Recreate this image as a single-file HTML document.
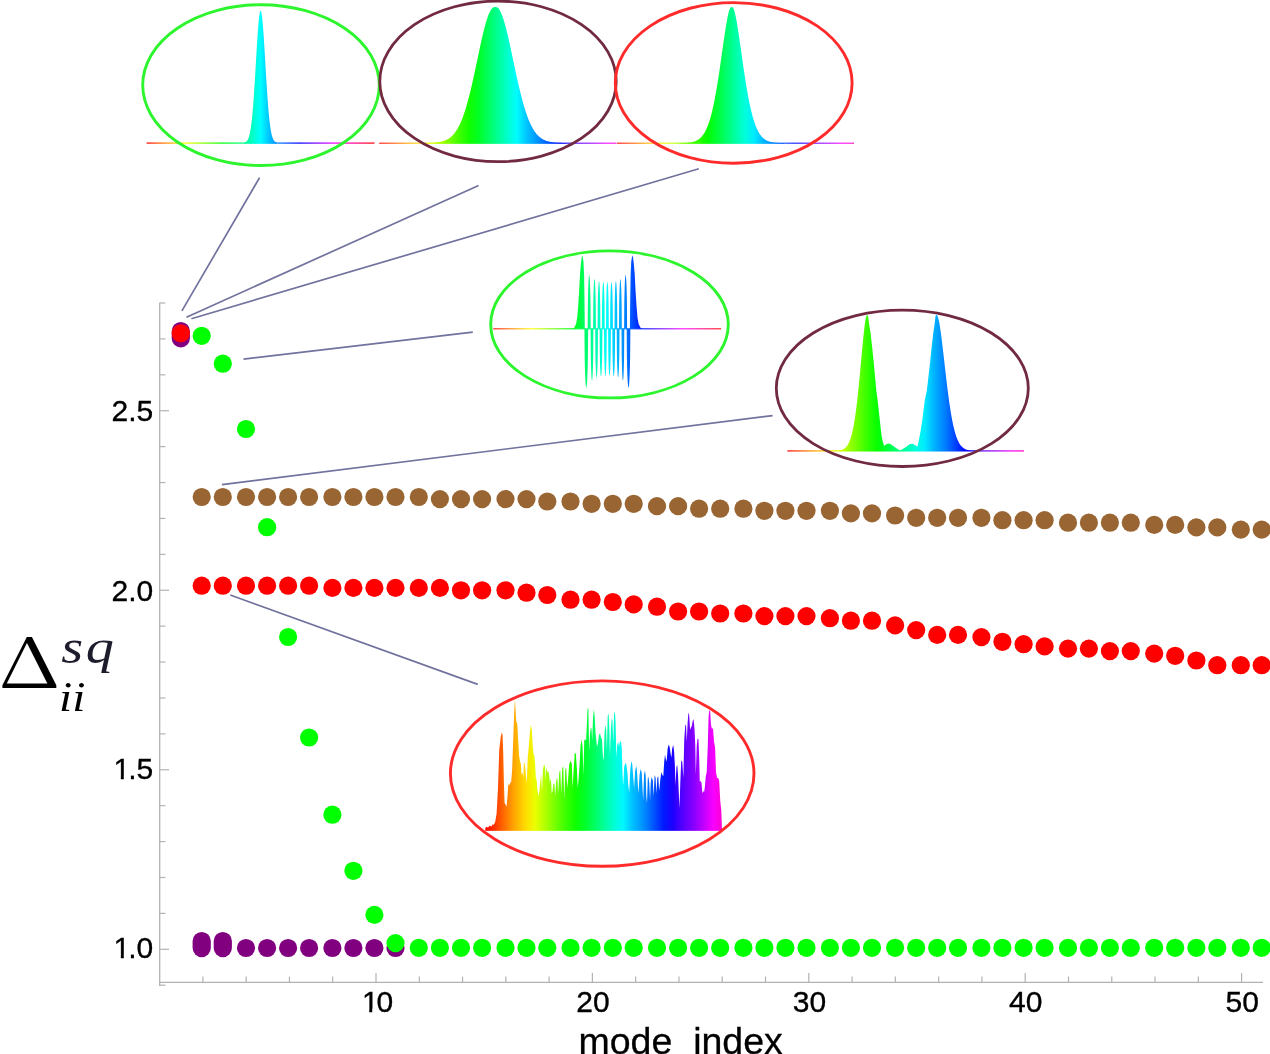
<!DOCTYPE html>
<html><head><meta charset="utf-8"><title>mode index plot</title><style>
html,body{margin:0;padding:0;background:#fff;}
body{width:1270px;height:1054px;overflow:hidden;}
svg{display:block;}
.tk{font-family:"Liberation Sans",Arial,sans-serif;font-size:30px;fill:#000;stroke:#000;stroke-width:0.35px;}
.xl{font-family:"Liberation Sans",Arial,sans-serif;font-size:37.5px;fill:#000;stroke:#000;stroke-width:0.3px;white-space:pre;}
.dl{font-family:"Noto Serif CJK SC","DejaVu Serif",serif;font-weight:400;font-size:69px;fill:#000;}
.sq{font-family:"Liberation Serif","DejaVu Serif",serif;font-style:italic;font-size:48px;fill:#1c1c2c;}
.ii{font-family:"Liberation Serif","DejaVu Serif",serif;font-style:italic;font-size:43px;fill:#000;}
</style></head>
<body><svg width="1270" height="1054" viewBox="0 0 1270 1054">
<defs><clipPath id="c1_1"><rect x="107.5" y="928.4" width="80" height="26.4"/><rect x="120.83" y="928.4" width="2.95" height="36"/><rect x="130.5" y="928.4" width="60" height="36"/></clipPath>
<clipPath id="c1_2"><rect x="107.5" y="749.47" width="80" height="26.4"/><rect x="120.83" y="749.47" width="2.95" height="36"/><rect x="130.5" y="749.47" width="60" height="36"/></clipPath>
<clipPath id="c1_3"><rect x="355.92" y="982.3" width="80" height="26.4"/><rect x="369.25" y="982.3" width="2.95" height="36"/><rect x="378.92" y="982.3" width="60" height="36"/></clipPath>
<linearGradient id="g1" gradientUnits="userSpaceOnUse" x1="146.6" y1="0" x2="374.5" y2="0"><stop offset="0" stop-color="#ff0000"/><stop offset="0.04" stop-color="#ff4000"/><stop offset="0.08" stop-color="#ff8000"/><stop offset="0.12" stop-color="#ffbf00"/><stop offset="0.17" stop-color="#ffff00"/><stop offset="0.21" stop-color="#bfff00"/><stop offset="0.25" stop-color="#80ff00"/><stop offset="0.29" stop-color="#40ff00"/><stop offset="0.33" stop-color="#00ff00"/><stop offset="0.38" stop-color="#00ff40"/><stop offset="0.42" stop-color="#00ff80"/><stop offset="0.46" stop-color="#00ffbf"/><stop offset="0.5" stop-color="#00ffff"/><stop offset="0.54" stop-color="#00bfff"/><stop offset="0.58" stop-color="#0080ff"/><stop offset="0.62" stop-color="#0040ff"/><stop offset="0.67" stop-color="#0000ff"/><stop offset="0.71" stop-color="#4000ff"/><stop offset="0.75" stop-color="#8000ff"/><stop offset="0.79" stop-color="#bf00ff"/><stop offset="0.83" stop-color="#ff00ff"/><stop offset="0.88" stop-color="#ff00bf"/><stop offset="0.92" stop-color="#ff0080"/><stop offset="0.96" stop-color="#ff0040"/><stop offset="1" stop-color="#ff0000"/></linearGradient>
<linearGradient id="g2" gradientUnits="userSpaceOnUse" x1="379.2" y1="0" x2="616.5" y2="0"><stop offset="0" stop-color="#ff0000"/><stop offset="0.04" stop-color="#ff3700"/><stop offset="0.08" stop-color="#ff6e00"/><stop offset="0.12" stop-color="#ffa400"/><stop offset="0.17" stop-color="#ffdb00"/><stop offset="0.21" stop-color="#ecff00"/><stop offset="0.25" stop-color="#b5ff00"/><stop offset="0.29" stop-color="#7eff00"/><stop offset="0.33" stop-color="#47ff00"/><stop offset="0.38" stop-color="#11ff00"/><stop offset="0.42" stop-color="#00ff26"/><stop offset="0.46" stop-color="#00ff5d"/><stop offset="0.5" stop-color="#00ff94"/><stop offset="0.54" stop-color="#00ffcb"/><stop offset="0.58" stop-color="#00fcff"/><stop offset="0.62" stop-color="#00c6ff"/><stop offset="0.67" stop-color="#008fff"/><stop offset="0.71" stop-color="#0058ff"/><stop offset="0.75" stop-color="#0021ff"/><stop offset="0.79" stop-color="#1600ff"/><stop offset="0.83" stop-color="#4c00ff"/><stop offset="0.88" stop-color="#8300ff"/><stop offset="0.92" stop-color="#ba00ff"/><stop offset="0.96" stop-color="#f100ff"/><stop offset="1" stop-color="#ff00d6"/></linearGradient>
<linearGradient id="g3" gradientUnits="userSpaceOnUse" x1="617" y1="0" x2="854" y2="0"><stop offset="0" stop-color="#ff0000"/><stop offset="0.04" stop-color="#ff3800"/><stop offset="0.08" stop-color="#ff7000"/><stop offset="0.12" stop-color="#ffa800"/><stop offset="0.17" stop-color="#ffe000"/><stop offset="0.21" stop-color="#e5ff00"/><stop offset="0.25" stop-color="#adff00"/><stop offset="0.29" stop-color="#75ff00"/><stop offset="0.33" stop-color="#3dff00"/><stop offset="0.38" stop-color="#05ff00"/><stop offset="0.42" stop-color="#00ff33"/><stop offset="0.46" stop-color="#00ff6b"/><stop offset="0.5" stop-color="#00ffa3"/><stop offset="0.54" stop-color="#00ffdb"/><stop offset="0.58" stop-color="#00ebff"/><stop offset="0.62" stop-color="#00b3ff"/><stop offset="0.67" stop-color="#007aff"/><stop offset="0.71" stop-color="#0042ff"/><stop offset="0.75" stop-color="#000aff"/><stop offset="0.79" stop-color="#2e00ff"/><stop offset="0.83" stop-color="#6600ff"/><stop offset="0.88" stop-color="#9e00ff"/><stop offset="0.92" stop-color="#d600ff"/><stop offset="0.96" stop-color="#ff00f0"/><stop offset="1" stop-color="#ff00b8"/></linearGradient>
<linearGradient id="g4" gradientUnits="userSpaceOnUse" x1="493.3" y1="0" x2="721.1" y2="0"><stop offset="0" stop-color="#ff0000"/><stop offset="0.04" stop-color="#ff4000"/><stop offset="0.08" stop-color="#ff8000"/><stop offset="0.12" stop-color="#ffbf00"/><stop offset="0.17" stop-color="#ffff00"/><stop offset="0.21" stop-color="#bfff00"/><stop offset="0.25" stop-color="#80ff00"/><stop offset="0.29" stop-color="#40ff00"/><stop offset="0.33" stop-color="#00ff00"/><stop offset="0.38" stop-color="#00ff40"/><stop offset="0.42" stop-color="#00ff80"/><stop offset="0.46" stop-color="#00ffbf"/><stop offset="0.5" stop-color="#00ffff"/><stop offset="0.54" stop-color="#00bfff"/><stop offset="0.58" stop-color="#0080ff"/><stop offset="0.62" stop-color="#0040ff"/><stop offset="0.67" stop-color="#0000ff"/><stop offset="0.71" stop-color="#4000ff"/><stop offset="0.75" stop-color="#8000ff"/><stop offset="0.79" stop-color="#bf00ff"/><stop offset="0.83" stop-color="#ff00ff"/><stop offset="0.88" stop-color="#ff00bf"/><stop offset="0.92" stop-color="#ff0080"/><stop offset="0.96" stop-color="#ff0040"/><stop offset="1" stop-color="#ff0000"/></linearGradient>
<linearGradient id="g5" gradientUnits="userSpaceOnUse" x1="787.4" y1="0" x2="1024" y2="0"><stop offset="0" stop-color="#ff0000"/><stop offset="0.04" stop-color="#ff3800"/><stop offset="0.08" stop-color="#ff7000"/><stop offset="0.12" stop-color="#ffa800"/><stop offset="0.17" stop-color="#ffe000"/><stop offset="0.21" stop-color="#e5ff00"/><stop offset="0.25" stop-color="#adff00"/><stop offset="0.29" stop-color="#75ff00"/><stop offset="0.33" stop-color="#3dff00"/><stop offset="0.38" stop-color="#05ff00"/><stop offset="0.42" stop-color="#00ff33"/><stop offset="0.46" stop-color="#00ff6b"/><stop offset="0.5" stop-color="#00ffa3"/><stop offset="0.54" stop-color="#00ffdb"/><stop offset="0.58" stop-color="#00ebff"/><stop offset="0.62" stop-color="#00b3ff"/><stop offset="0.67" stop-color="#007aff"/><stop offset="0.71" stop-color="#0042ff"/><stop offset="0.75" stop-color="#000aff"/><stop offset="0.79" stop-color="#2e00ff"/><stop offset="0.83" stop-color="#6600ff"/><stop offset="0.88" stop-color="#9e00ff"/><stop offset="0.92" stop-color="#d600ff"/><stop offset="0.96" stop-color="#ff00f0"/><stop offset="1" stop-color="#ff00b8"/></linearGradient>
<linearGradient id="g6" gradientUnits="userSpaceOnUse" x1="485.4" y1="0" x2="722.7" y2="0"><stop offset="0" stop-color="#ff0000"/><stop offset="0.04" stop-color="#ff3700"/><stop offset="0.08" stop-color="#ff6e00"/><stop offset="0.12" stop-color="#ffa500"/><stop offset="0.17" stop-color="#ffdd00"/><stop offset="0.21" stop-color="#eaff00"/><stop offset="0.25" stop-color="#b3ff00"/><stop offset="0.29" stop-color="#7cff00"/><stop offset="0.33" stop-color="#45ff00"/><stop offset="0.38" stop-color="#0eff00"/><stop offset="0.42" stop-color="#00ff29"/><stop offset="0.46" stop-color="#00ff61"/><stop offset="0.5" stop-color="#00ff98"/><stop offset="0.54" stop-color="#00ffcf"/><stop offset="0.58" stop-color="#00f8ff"/><stop offset="0.62" stop-color="#00c1ff"/><stop offset="0.67" stop-color="#008aff"/><stop offset="0.71" stop-color="#0053ff"/><stop offset="0.75" stop-color="#001bff"/><stop offset="0.79" stop-color="#1c00ff"/><stop offset="0.83" stop-color="#5300ff"/><stop offset="0.88" stop-color="#8a00ff"/><stop offset="0.92" stop-color="#c100ff"/><stop offset="0.96" stop-color="#f800ff"/><stop offset="1" stop-color="#ff00cf"/></linearGradient></defs>
<rect width="1270" height="1054" fill="#fff"/>
<line x1="159.7" y1="302.8" x2="159.7" y2="986" stroke="#b2b2b2" stroke-width="1.3"/>
<line x1="159.7" y1="982.3" x2="1263" y2="982.3" stroke="#b2b2b2" stroke-width="1.3"/>
<line x1="159.7" y1="985.2" x2="165.4" y2="985.2" stroke="#b2b2b2" stroke-width="1.2"/>
<line x1="159.7" y1="949.3" x2="169" y2="949.3" stroke="#b2b2b2" stroke-width="1.2"/>
<line x1="159.7" y1="913.39" x2="165.4" y2="913.39" stroke="#b2b2b2" stroke-width="1.2"/>
<line x1="159.7" y1="877.49" x2="165.4" y2="877.49" stroke="#b2b2b2" stroke-width="1.2"/>
<line x1="159.7" y1="841.58" x2="165.4" y2="841.58" stroke="#b2b2b2" stroke-width="1.2"/>
<line x1="159.7" y1="805.68" x2="165.4" y2="805.68" stroke="#b2b2b2" stroke-width="1.2"/>
<line x1="159.7" y1="769.77" x2="169" y2="769.77" stroke="#b2b2b2" stroke-width="1.2"/>
<line x1="159.7" y1="733.87" x2="165.4" y2="733.87" stroke="#b2b2b2" stroke-width="1.2"/>
<line x1="159.7" y1="697.96" x2="165.4" y2="697.96" stroke="#b2b2b2" stroke-width="1.2"/>
<line x1="159.7" y1="662.06" x2="165.4" y2="662.06" stroke="#b2b2b2" stroke-width="1.2"/>
<line x1="159.7" y1="626.15" x2="165.4" y2="626.15" stroke="#b2b2b2" stroke-width="1.2"/>
<line x1="159.7" y1="590.25" x2="169" y2="590.25" stroke="#b2b2b2" stroke-width="1.2"/>
<line x1="159.7" y1="554.34" x2="165.4" y2="554.34" stroke="#b2b2b2" stroke-width="1.2"/>
<line x1="159.7" y1="518.44" x2="165.4" y2="518.44" stroke="#b2b2b2" stroke-width="1.2"/>
<line x1="159.7" y1="482.54" x2="165.4" y2="482.54" stroke="#b2b2b2" stroke-width="1.2"/>
<line x1="159.7" y1="446.63" x2="165.4" y2="446.63" stroke="#b2b2b2" stroke-width="1.2"/>
<line x1="159.7" y1="410.72" x2="169" y2="410.72" stroke="#b2b2b2" stroke-width="1.2"/>
<line x1="159.7" y1="374.82" x2="165.4" y2="374.82" stroke="#b2b2b2" stroke-width="1.2"/>
<line x1="159.7" y1="338.91" x2="165.4" y2="338.91" stroke="#b2b2b2" stroke-width="1.2"/>
<line x1="159.7" y1="303.01" x2="165.4" y2="303.01" stroke="#b2b2b2" stroke-width="1.2"/>
<line x1="202.88" y1="982.3" x2="202.88" y2="976.6" stroke="#b2b2b2" stroke-width="1.2"/>
<line x1="246.16" y1="982.3" x2="246.16" y2="976.6" stroke="#b2b2b2" stroke-width="1.2"/>
<line x1="289.44" y1="982.3" x2="289.44" y2="976.6" stroke="#b2b2b2" stroke-width="1.2"/>
<line x1="332.72" y1="982.3" x2="332.72" y2="976.6" stroke="#b2b2b2" stroke-width="1.2"/>
<line x1="376" y1="982.3" x2="376" y2="973" stroke="#b2b2b2" stroke-width="1.2"/>
<line x1="419.28" y1="982.3" x2="419.28" y2="976.6" stroke="#b2b2b2" stroke-width="1.2"/>
<line x1="462.56" y1="982.3" x2="462.56" y2="976.6" stroke="#b2b2b2" stroke-width="1.2"/>
<line x1="505.84" y1="982.3" x2="505.84" y2="976.6" stroke="#b2b2b2" stroke-width="1.2"/>
<line x1="549.12" y1="982.3" x2="549.12" y2="976.6" stroke="#b2b2b2" stroke-width="1.2"/>
<line x1="592.4" y1="982.3" x2="592.4" y2="973" stroke="#b2b2b2" stroke-width="1.2"/>
<line x1="635.68" y1="982.3" x2="635.68" y2="976.6" stroke="#b2b2b2" stroke-width="1.2"/>
<line x1="678.96" y1="982.3" x2="678.96" y2="976.6" stroke="#b2b2b2" stroke-width="1.2"/>
<line x1="722.24" y1="982.3" x2="722.24" y2="976.6" stroke="#b2b2b2" stroke-width="1.2"/>
<line x1="765.52" y1="982.3" x2="765.52" y2="976.6" stroke="#b2b2b2" stroke-width="1.2"/>
<line x1="808.8" y1="982.3" x2="808.8" y2="973" stroke="#b2b2b2" stroke-width="1.2"/>
<line x1="852.08" y1="982.3" x2="852.08" y2="976.6" stroke="#b2b2b2" stroke-width="1.2"/>
<line x1="895.36" y1="982.3" x2="895.36" y2="976.6" stroke="#b2b2b2" stroke-width="1.2"/>
<line x1="938.64" y1="982.3" x2="938.64" y2="976.6" stroke="#b2b2b2" stroke-width="1.2"/>
<line x1="981.92" y1="982.3" x2="981.92" y2="976.6" stroke="#b2b2b2" stroke-width="1.2"/>
<line x1="1025.2" y1="982.3" x2="1025.2" y2="973" stroke="#b2b2b2" stroke-width="1.2"/>
<line x1="1068.48" y1="982.3" x2="1068.48" y2="976.6" stroke="#b2b2b2" stroke-width="1.2"/>
<line x1="1111.76" y1="982.3" x2="1111.76" y2="976.6" stroke="#b2b2b2" stroke-width="1.2"/>
<line x1="1155.04" y1="982.3" x2="1155.04" y2="976.6" stroke="#b2b2b2" stroke-width="1.2"/>
<line x1="1198.32" y1="982.3" x2="1198.32" y2="976.6" stroke="#b2b2b2" stroke-width="1.2"/>
<line x1="1241.6" y1="982.3" x2="1241.6" y2="973" stroke="#b2b2b2" stroke-width="1.2"/>
<text x="111.5" y="958.4" class="tk" clip-path="url(#c1_1)"><tspan dx="2">1</tspan><tspan dx="-2">.0</tspan></text>
<text x="111.5" y="779.47" class="tk" clip-path="url(#c1_2)"><tspan dx="2">1</tspan><tspan dx="-2">.5</tspan></text>
<text x="111.5" y="600.65" class="tk">2.0</text>
<text x="111.5" y="421.12" class="tk">2.5</text>
<text x="359.92" y="1012.3" class="tk" clip-path="url(#c1_3)"><tspan dx="2">1</tspan><tspan dx="-2">0</tspan></text>
<text x="576.32" y="1012.3" class="tk">20</text>
<text x="792.72" y="1012.3" class="tk">30</text>
<text x="1009.12" y="1012.3" class="tk">40</text>
<text x="1225.52" y="1012.3" class="tk">50</text>
<text x="578.5" y="1054.2" class="xl">mode&#160;&#160;index</text>
<text transform="translate(-1.9,688.1) scale(1.33,1)" class="dl">&#916;</text>
<text transform="translate(61.2,663.4) scale(1.17,1)" class="sq">s<tspan dx="2.4">q</tspan></text>
<text transform="translate(59,710.6) scale(1.1,1)" class="ii">ii</text>
<line x1="181.9" y1="310.9" x2="259.6" y2="177.6" stroke="#71729d" stroke-width="1.7"/>
<line x1="186.5" y1="317.2" x2="478.6" y2="185.5" stroke="#71729d" stroke-width="1.7"/>
<line x1="191.4" y1="318.7" x2="698.8" y2="168.7" stroke="#71729d" stroke-width="1.7"/>
<line x1="243.5" y1="359.2" x2="472.8" y2="332.2" stroke="#71729d" stroke-width="1.7"/>
<line x1="221.9" y1="484.6" x2="772.6" y2="415.6" stroke="#71729d" stroke-width="1.7"/>
<line x1="230.3" y1="595" x2="477.8" y2="684.4" stroke="#71729d" stroke-width="1.7"/>
<rect x="171.7" y="321.9" width="18.2" height="25.5" rx="9.1" ry="9.1" fill="#800080"/>
<rect x="192.6" y="931.9" width="18.2" height="25.3" rx="9.1" ry="9.1" fill="#800080"/>
<rect x="213.7" y="931.9" width="18.2" height="25.3" rx="9.1" ry="9.1" fill="#800080"/>
<circle cx="246" cy="948" r="9.1" fill="#800080"/>
<circle cx="267.1" cy="948" r="9.1" fill="#800080"/>
<circle cx="288.1" cy="948" r="9.1" fill="#800080"/>
<circle cx="309.1" cy="948" r="9.1" fill="#800080"/>
<circle cx="332.4" cy="948" r="9.1" fill="#800080"/>
<circle cx="353.4" cy="948" r="9.1" fill="#800080"/>
<circle cx="374.4" cy="948" r="9.1" fill="#800080"/>
<circle cx="395.5" cy="948" r="9.1" fill="#800080"/>
<circle cx="201.7" cy="335.8" r="9.1" fill="#00ff00"/>
<circle cx="222.8" cy="363.7" r="9.1" fill="#00ff00"/>
<circle cx="246" cy="429" r="9.1" fill="#00ff00"/>
<circle cx="267.1" cy="527.2" r="9.1" fill="#00ff00"/>
<circle cx="288.1" cy="637" r="9.1" fill="#00ff00"/>
<circle cx="309.1" cy="737.5" r="9.1" fill="#00ff00"/>
<circle cx="332.4" cy="814.7" r="9.1" fill="#00ff00"/>
<circle cx="353.4" cy="870.8" r="9.1" fill="#00ff00"/>
<circle cx="374.4" cy="914.9" r="9.1" fill="#00ff00"/>
<circle cx="395.5" cy="943.1" r="9.1" fill="#00ff00"/>
<circle cx="418.8" cy="947.8" r="9.1" fill="#00ff00"/>
<circle cx="439.9" cy="947.8" r="9.1" fill="#00ff00"/>
<circle cx="461" cy="947.8" r="9.1" fill="#00ff00"/>
<circle cx="482.1" cy="947.8" r="9.1" fill="#00ff00"/>
<circle cx="505.5" cy="947.8" r="9.1" fill="#00ff00"/>
<circle cx="526.5" cy="947.8" r="9.1" fill="#00ff00"/>
<circle cx="547.3" cy="947.8" r="9.1" fill="#00ff00"/>
<circle cx="570.5" cy="947.8" r="9.1" fill="#00ff00"/>
<circle cx="591.6" cy="947.8" r="9.1" fill="#00ff00"/>
<circle cx="612.8" cy="947.8" r="9.1" fill="#00ff00"/>
<circle cx="633.7" cy="947.8" r="9.1" fill="#00ff00"/>
<circle cx="657" cy="947.8" r="9.1" fill="#00ff00"/>
<circle cx="678.1" cy="947.8" r="9.1" fill="#00ff00"/>
<circle cx="699.1" cy="947.8" r="9.1" fill="#00ff00"/>
<circle cx="720.2" cy="947.8" r="9.1" fill="#00ff00"/>
<circle cx="743.4" cy="947.8" r="9.1" fill="#00ff00"/>
<circle cx="764.4" cy="947.8" r="9.1" fill="#00ff00"/>
<circle cx="785.4" cy="947.8" r="9.1" fill="#00ff00"/>
<circle cx="806.5" cy="947.8" r="9.1" fill="#00ff00"/>
<circle cx="829.9" cy="947.8" r="9.1" fill="#00ff00"/>
<circle cx="850.9" cy="947.8" r="9.1" fill="#00ff00"/>
<circle cx="872" cy="947.8" r="9.1" fill="#00ff00"/>
<circle cx="895.1" cy="947.8" r="9.1" fill="#00ff00"/>
<circle cx="916.2" cy="947.8" r="9.1" fill="#00ff00"/>
<circle cx="937.2" cy="947.8" r="9.1" fill="#00ff00"/>
<circle cx="958" cy="947.8" r="9.1" fill="#00ff00"/>
<circle cx="981.4" cy="947.8" r="9.1" fill="#00ff00"/>
<circle cx="1002.4" cy="947.8" r="9.1" fill="#00ff00"/>
<circle cx="1023.6" cy="947.8" r="9.1" fill="#00ff00"/>
<circle cx="1044.6" cy="947.8" r="9.1" fill="#00ff00"/>
<circle cx="1068" cy="947.8" r="9.1" fill="#00ff00"/>
<circle cx="1088.9" cy="947.8" r="9.1" fill="#00ff00"/>
<circle cx="1109.9" cy="947.8" r="9.1" fill="#00ff00"/>
<circle cx="1130.8" cy="947.8" r="9.1" fill="#00ff00"/>
<circle cx="1154.2" cy="947.8" r="9.1" fill="#00ff00"/>
<circle cx="1175.2" cy="947.8" r="9.1" fill="#00ff00"/>
<circle cx="1196.4" cy="947.8" r="9.1" fill="#00ff00"/>
<circle cx="1217.3" cy="947.8" r="9.1" fill="#00ff00"/>
<circle cx="1240.8" cy="947.8" r="9.1" fill="#00ff00"/>
<circle cx="1261.7" cy="947.8" r="9.1" fill="#00ff00"/>
<circle cx="201.7" cy="497" r="9.1" fill="#996633"/>
<circle cx="222.8" cy="497" r="9.1" fill="#996633"/>
<circle cx="246" cy="497" r="9.1" fill="#996633"/>
<circle cx="267.1" cy="497" r="9.1" fill="#996633"/>
<circle cx="288.1" cy="497" r="9.1" fill="#996633"/>
<circle cx="309.1" cy="497" r="9.1" fill="#996633"/>
<circle cx="332.4" cy="497" r="9.1" fill="#996633"/>
<circle cx="353.4" cy="497" r="9.1" fill="#996633"/>
<circle cx="374.4" cy="497" r="9.1" fill="#996633"/>
<circle cx="395.5" cy="497" r="9.1" fill="#996633"/>
<circle cx="418.8" cy="497" r="9.1" fill="#996633"/>
<circle cx="439.9" cy="499.1" r="9.1" fill="#996633"/>
<circle cx="461" cy="499.1" r="9.1" fill="#996633"/>
<circle cx="482.1" cy="499.1" r="9.1" fill="#996633"/>
<circle cx="505.5" cy="499.1" r="9.1" fill="#996633"/>
<circle cx="526.5" cy="499.1" r="9.1" fill="#996633"/>
<circle cx="547.3" cy="501.5" r="9.1" fill="#996633"/>
<circle cx="570.5" cy="501.5" r="9.1" fill="#996633"/>
<circle cx="591.6" cy="503.8" r="9.1" fill="#996633"/>
<circle cx="612.8" cy="503.8" r="9.1" fill="#996633"/>
<circle cx="633.7" cy="503.8" r="9.1" fill="#996633"/>
<circle cx="657" cy="506.1" r="9.1" fill="#996633"/>
<circle cx="678.1" cy="506.1" r="9.1" fill="#996633"/>
<circle cx="699.1" cy="508.7" r="9.1" fill="#996633"/>
<circle cx="720.2" cy="508.7" r="9.1" fill="#996633"/>
<circle cx="743.4" cy="508.7" r="9.1" fill="#996633"/>
<circle cx="764.4" cy="510.8" r="9.1" fill="#996633"/>
<circle cx="785.4" cy="510.8" r="9.1" fill="#996633"/>
<circle cx="806.5" cy="510.8" r="9.1" fill="#996633"/>
<circle cx="829.9" cy="510.8" r="9.1" fill="#996633"/>
<circle cx="850.9" cy="513.4" r="9.1" fill="#996633"/>
<circle cx="872" cy="513.4" r="9.1" fill="#996633"/>
<circle cx="895.1" cy="515.5" r="9.1" fill="#996633"/>
<circle cx="916.2" cy="517.8" r="9.1" fill="#996633"/>
<circle cx="937.2" cy="517.8" r="9.1" fill="#996633"/>
<circle cx="958" cy="517.8" r="9.1" fill="#996633"/>
<circle cx="981.4" cy="517.8" r="9.1" fill="#996633"/>
<circle cx="1002.4" cy="520.2" r="9.1" fill="#996633"/>
<circle cx="1023.6" cy="520.2" r="9.1" fill="#996633"/>
<circle cx="1044.6" cy="520.2" r="9.1" fill="#996633"/>
<circle cx="1068" cy="522.7" r="9.1" fill="#996633"/>
<circle cx="1088.9" cy="522.7" r="9.1" fill="#996633"/>
<circle cx="1109.9" cy="522.7" r="9.1" fill="#996633"/>
<circle cx="1130.8" cy="522.7" r="9.1" fill="#996633"/>
<circle cx="1154.2" cy="524.9" r="9.1" fill="#996633"/>
<circle cx="1175.2" cy="524.9" r="9.1" fill="#996633"/>
<circle cx="1196.4" cy="527.4" r="9.1" fill="#996633"/>
<circle cx="1217.3" cy="527.4" r="9.1" fill="#996633"/>
<circle cx="1240.8" cy="529.6" r="9.1" fill="#996633"/>
<circle cx="1261.7" cy="529.6" r="9.1" fill="#996633"/>
<circle cx="180.8" cy="333.3" r="9.1" fill="#ff0000"/>
<circle cx="201.7" cy="585.7" r="9.1" fill="#ff0000"/>
<circle cx="222.8" cy="585.7" r="9.1" fill="#ff0000"/>
<circle cx="246" cy="585.7" r="9.1" fill="#ff0000"/>
<circle cx="267.1" cy="585.7" r="9.1" fill="#ff0000"/>
<circle cx="288.1" cy="585.7" r="9.1" fill="#ff0000"/>
<circle cx="309.1" cy="585.7" r="9.1" fill="#ff0000"/>
<circle cx="332.4" cy="587.9" r="9.1" fill="#ff0000"/>
<circle cx="353.4" cy="587.9" r="9.1" fill="#ff0000"/>
<circle cx="374.4" cy="587.9" r="9.1" fill="#ff0000"/>
<circle cx="395.5" cy="587.9" r="9.1" fill="#ff0000"/>
<circle cx="418.8" cy="587.9" r="9.1" fill="#ff0000"/>
<circle cx="439.9" cy="587.9" r="9.1" fill="#ff0000"/>
<circle cx="461" cy="590.3" r="9.1" fill="#ff0000"/>
<circle cx="482.1" cy="590.3" r="9.1" fill="#ff0000"/>
<circle cx="505.5" cy="590.3" r="9.1" fill="#ff0000"/>
<circle cx="526.5" cy="592.7" r="9.1" fill="#ff0000"/>
<circle cx="547.3" cy="595" r="9.1" fill="#ff0000"/>
<circle cx="570.5" cy="599.7" r="9.1" fill="#ff0000"/>
<circle cx="591.6" cy="599.7" r="9.1" fill="#ff0000"/>
<circle cx="612.8" cy="602" r="9.1" fill="#ff0000"/>
<circle cx="633.7" cy="604.4" r="9.1" fill="#ff0000"/>
<circle cx="657" cy="606.7" r="9.1" fill="#ff0000"/>
<circle cx="678.1" cy="611.5" r="9.1" fill="#ff0000"/>
<circle cx="699.1" cy="611.5" r="9.1" fill="#ff0000"/>
<circle cx="720.2" cy="613.5" r="9.1" fill="#ff0000"/>
<circle cx="743.4" cy="613.5" r="9.1" fill="#ff0000"/>
<circle cx="764.4" cy="616.1" r="9.1" fill="#ff0000"/>
<circle cx="785.4" cy="616.1" r="9.1" fill="#ff0000"/>
<circle cx="806.5" cy="616.1" r="9.1" fill="#ff0000"/>
<circle cx="829.9" cy="618.2" r="9.1" fill="#ff0000"/>
<circle cx="850.9" cy="620.7" r="9.1" fill="#ff0000"/>
<circle cx="872" cy="620.7" r="9.1" fill="#ff0000"/>
<circle cx="895.1" cy="625.4" r="9.1" fill="#ff0000"/>
<circle cx="916.2" cy="630.1" r="9.1" fill="#ff0000"/>
<circle cx="937.2" cy="634.9" r="9.1" fill="#ff0000"/>
<circle cx="958" cy="634.9" r="9.1" fill="#ff0000"/>
<circle cx="981.4" cy="637.1" r="9.1" fill="#ff0000"/>
<circle cx="1002.4" cy="641.8" r="9.1" fill="#ff0000"/>
<circle cx="1023.6" cy="644.2" r="9.1" fill="#ff0000"/>
<circle cx="1044.6" cy="646.4" r="9.1" fill="#ff0000"/>
<circle cx="1068" cy="648.6" r="9.1" fill="#ff0000"/>
<circle cx="1088.9" cy="648.6" r="9.1" fill="#ff0000"/>
<circle cx="1109.9" cy="651.1" r="9.1" fill="#ff0000"/>
<circle cx="1130.8" cy="651.1" r="9.1" fill="#ff0000"/>
<circle cx="1154.2" cy="653.6" r="9.1" fill="#ff0000"/>
<circle cx="1175.2" cy="655.8" r="9.1" fill="#ff0000"/>
<circle cx="1196.4" cy="660.5" r="9.1" fill="#ff0000"/>
<circle cx="1217.3" cy="665.2" r="9.1" fill="#ff0000"/>
<circle cx="1240.8" cy="665.2" r="9.1" fill="#ff0000"/>
<circle cx="1261.7" cy="665.2" r="9.1" fill="#ff0000"/>
<line x1="146.6" y1="143.1" x2="374.5" y2="143.1" stroke="url(#g1)" stroke-width="1.6" stroke-opacity="0.7"/>
<path d="M244,143.4 L244,142.64 L244.25,142.59 L244.5,142.53 L244.75,142.45 L245,142.36 L245.25,142.26 L245.5,142.14 L245.75,142 L246,141.84 L246.25,141.65 L246.5,141.43 L246.75,141.18 L247,140.89 L247.25,140.56 L247.5,140.18 L247.75,139.75 L248,139.27 L248.25,138.72 L248.5,138.1 L248.75,137.4 L249,136.62 L249.25,135.75 L249.5,134.78 L249.75,133.7 L250,132.52 L250.25,131.21 L250.5,129.77 L250.75,128.21 L251,126.5 L251.25,124.64 L251.5,122.63 L251.75,120.46 L252,118.13 L252.25,115.64 L252.5,112.98 L252.75,110.15 L253,107.16 L253.25,104.01 L253.5,100.69 L253.75,97.23 L254,93.62 L254.25,89.87 L254.5,86 L254.75,82.02 L255,77.94 L255.25,73.79 L255.5,69.58 L255.75,65.33 L256,61.07 L256.25,56.82 L256.5,52.61 L256.75,48.45 L257,44.38 L257.25,40.43 L257.5,36.62 L257.75,32.98 L258,29.54 L258.25,26.32 L258.5,23.35 L258.75,20.65 L259,18.24 L259.25,16.14 L259.5,14.37 L259.75,12.94 L260,11.87 L260.25,11.17 L260.5,10.83 L260.75,10.87 L261,11.28 L261.25,12.06 L261.5,13.2 L261.75,14.7 L262,16.53 L262.25,18.69 L262.5,21.16 L262.75,23.92 L263,26.95 L263.25,30.21 L263.5,33.7 L263.75,37.37 L264,41.21 L264.25,45.19 L264.5,49.28 L264.75,53.45 L265,57.67 L265.25,61.92 L265.5,66.18 L265.75,70.43 L266,74.63 L266.25,78.76 L266.5,82.82 L266.75,86.78 L267,90.63 L267.25,94.35 L267.5,97.93 L267.75,101.37 L268,104.65 L268.25,107.77 L268.5,110.73 L268.75,113.53 L269,116.15 L269.25,118.61 L269.5,120.91 L269.75,123.04 L270,125.02 L270.25,126.85 L270.5,128.53 L270.75,130.07 L271,131.48 L271.25,132.76 L271.5,133.93 L271.75,134.98 L272,135.93 L272.25,136.78 L272.5,137.54 L272.75,138.23 L273,138.83 L273.25,139.37 L273.5,139.84 L273.75,140.26 L274,140.63 L274.25,140.95 L274.5,141.23 L274.75,141.48 L275,141.69 L275.25,141.87 L275.5,142.03 L275.75,142.17 L276,142.28 L276.25,142.38 L276.5,142.47 L276.75,142.54 L277,142.6 L277,143.4 Z" fill="url(#g1)"/>
<line x1="379.2" y1="143.2" x2="616.5" y2="143.2" stroke="url(#g2)" stroke-width="1.6" stroke-opacity="0.7"/>
<path d="M425,143.5 L425,142.94 L425.5,142.94 L426,142.93 L426.5,142.92 L427,142.91 L427.5,142.9 L428,142.89 L428.5,142.88 L429,142.87 L429.5,142.85 L430,142.84 L430.5,142.82 L431,142.8 L431.5,142.78 L432,142.75 L432.5,142.73 L433,142.7 L433.5,142.67 L434,142.64 L434.5,142.6 L435,142.56 L435.5,142.52 L436,142.47 L436.5,142.42 L437,142.36 L437.5,142.3 L438,142.23 L438.5,142.16 L439,142.08 L439.5,142 L440,141.91 L440.5,141.81 L441,141.7 L441.5,141.59 L442,141.46 L442.5,141.33 L443,141.18 L443.5,141.03 L444,140.86 L444.5,140.68 L445,140.49 L445.5,140.28 L446,140.06 L446.5,139.83 L447,139.57 L447.5,139.3 L448,139.02 L448.5,138.71 L449,138.38 L449.5,138.03 L450,137.66 L450.5,137.27 L451,136.85 L451.5,136.4 L452,135.93 L452.5,135.43 L453,134.9 L453.5,134.35 L454,133.76 L454.5,133.14 L455,132.48 L455.5,131.79 L456,131.07 L456.5,130.3 L457,129.5 L457.5,128.66 L458,127.78 L458.5,126.86 L459,125.89 L459.5,124.88 L460,123.83 L460.5,122.73 L461,121.59 L461.5,120.4 L462,119.16 L462.5,117.87 L463,116.54 L463.5,115.15 L464,113.72 L464.5,112.24 L465,110.7 L465.5,109.12 L466,107.49 L466.5,105.81 L467,104.08 L467.5,102.3 L468,100.47 L468.5,98.6 L469,96.68 L469.5,94.72 L470,92.72 L470.5,90.67 L471,88.58 L471.5,86.46 L472,84.3 L472.5,82.1 L473,79.88 L473.5,77.62 L474,75.34 L474.5,73.04 L475,70.71 L475.5,68.37 L476,66.02 L476.5,63.65 L477,61.28 L477.5,58.91 L478,56.53 L478.5,54.17 L479,51.81 L479.5,49.47 L480,47.14 L480.5,44.84 L481,42.56 L481.5,40.32 L482,38.11 L482.5,35.94 L483,33.82 L483.5,31.75 L484,29.73 L484.5,27.78 L485,25.88 L485.5,24.06 L486,22.31 L486.5,20.63 L487,19.04 L487.5,17.53 L488,16.11 L488.5,14.79 L489,13.56 L489.5,12.43 L490,11.4 L490.5,10.48 L491,9.67 L491.5,8.98 L492,8.39 L492.5,7.92 L493,7.56 L493.5,7.31 L494,7.17 L494.5,7.11 L495,7.1 L495.5,7.1 L496,7.12 L496.5,7.19 L497,7.35 L497.5,7.62 L498,8 L498.5,8.5 L499,9.11 L499.5,9.83 L500,10.66 L500.5,11.6 L501,12.65 L501.5,13.79 L502,15.04 L502.5,16.39 L503,17.82 L503.5,19.35 L504,20.96 L504.5,22.65 L505,24.42 L505.5,26.26 L506,28.16 L506.5,30.13 L507,32.16 L507.5,34.24 L508,36.37 L508.5,38.55 L509,40.76 L509.5,43.01 L510,45.3 L510.5,47.6 L511,49.93 L511.5,52.28 L512,54.64 L512.5,57.01 L513,59.38 L513.5,61.76 L514,64.13 L514.5,66.49 L515,68.84 L515.5,71.18 L516,73.5 L516.5,75.8 L517,78.08 L517.5,80.32 L518,82.54 L518.5,84.73 L519,86.89 L519.5,89 L520,91.08 L520.5,93.12 L521,95.12 L521.5,97.07 L522,98.98 L522.5,100.84 L523,102.66 L523.5,104.43 L524,106.15 L524.5,107.82 L525,109.44 L525.5,111.01 L526,112.54 L526.5,114.01 L527,115.43 L527.5,116.81 L528,118.13 L528.5,119.41 L529,120.64 L529.5,121.82 L530,122.96 L530.5,124.05 L531,125.09 L531.5,126.09 L532,127.05 L532.5,127.96 L533,128.83 L533.5,129.67 L534,130.46 L534.5,131.21 L535,131.93 L535.5,132.62 L536,133.26 L536.5,133.88 L537,134.46 L537.5,135.01 L538,135.53 L538.5,136.03 L539,136.49 L539.5,136.93 L540,137.35 L540.5,137.74 L541,138.1 L541.5,138.45 L542,138.77 L542.5,139.08 L543,139.36 L543.5,139.63 L544,139.88 L544.5,140.11 L545,140.33 L545.5,140.53 L546,140.72 L546.5,140.9 L547,141.06 L547.5,141.21 L548,141.36 L548.5,141.49 L549,141.61 L549.5,141.72 L550,141.83 L550.5,141.93 L551,142.02 L551.5,142.1 L552,142.18 L552.5,142.25 L553,142.31 L553.5,142.37 L554,142.43 L554.5,142.48 L555,142.53 L555.5,142.57 L556,142.61 L556.5,142.64 L557,142.68 L557.5,142.71 L558,142.73 L558.5,142.76 L559,142.78 L559.5,142.8 L560,142.82 L560.5,142.84 L561,142.85 L561.5,142.87 L562,142.88 L562.5,142.89 L563,142.9 L563.5,142.91 L564,142.92 L564.5,142.93 L565,142.94 L565.5,142.94 L566,142.95 L566,143.5 Z" fill="url(#g2)"/>
<line x1="617" y1="143.3" x2="854" y2="143.3" stroke="url(#g3)" stroke-width="1.6" stroke-opacity="0.7"/>
<path d="M680,143.6 L680,143.04 L680.25,143.03 L680.5,143.03 L680.75,143.02 L681,143.02 L681.25,143.01 L681.5,143.01 L681.75,143 L682,143 L682.25,142.99 L682.5,142.98 L682.75,142.97 L683,142.97 L683.25,142.96 L683.5,142.95 L683.75,142.94 L684,142.93 L684.25,142.92 L684.5,142.91 L684.75,142.9 L685,142.89 L685.25,142.87 L685.5,142.86 L685.75,142.85 L686,142.83 L686.25,142.81 L686.5,142.8 L686.75,142.78 L687,142.76 L687.25,142.74 L687.5,142.72 L687.75,142.7 L688,142.67 L688.25,142.65 L688.5,142.62 L688.75,142.6 L689,142.57 L689.25,142.54 L689.5,142.51 L689.75,142.47 L690,142.44 L690.25,142.4 L690.5,142.36 L690.75,142.32 L691,142.28 L691.25,142.24 L691.5,142.19 L691.75,142.14 L692,142.09 L692.25,142.03 L692.5,141.98 L692.75,141.92 L693,141.85 L693.25,141.79 L693.5,141.72 L693.75,141.65 L694,141.57 L694.25,141.49 L694.5,141.41 L694.75,141.32 L695,141.23 L695.25,141.14 L695.5,141.04 L695.75,140.93 L696,140.82 L696.25,140.71 L696.5,140.59 L696.75,140.47 L697,140.34 L697.25,140.2 L697.5,140.06 L697.75,139.91 L698,139.76 L698.25,139.6 L698.5,139.43 L698.75,139.26 L699,139.08 L699.25,138.89 L699.5,138.69 L699.75,138.49 L700,138.27 L700.25,138.05 L700.5,137.82 L700.75,137.58 L701,137.33 L701.25,137.07 L701.5,136.8 L701.75,136.52 L702,136.23 L702.25,135.93 L702.5,135.62 L702.75,135.29 L703,134.95 L703.25,134.6 L703.5,134.24 L703.75,133.87 L704,133.48 L704.25,133.07 L704.5,132.66 L704.75,132.22 L705,131.78 L705.25,131.32 L705.5,130.84 L705.75,130.34 L706,129.83 L706.25,129.31 L706.5,128.76 L706.75,128.2 L707,127.62 L707.25,127.02 L707.5,126.4 L707.75,125.77 L708,125.11 L708.25,124.44 L708.5,123.74 L708.75,123.03 L709,122.29 L709.25,121.53 L709.5,120.75 L709.75,119.95 L710,119.13 L710.25,118.28 L710.5,117.41 L710.75,116.52 L711,115.61 L711.25,114.67 L711.5,113.71 L711.75,112.72 L712,111.71 L712.25,110.67 L712.5,109.62 L712.75,108.53 L713,107.42 L713.25,106.29 L713.5,105.13 L713.75,103.95 L714,102.74 L714.25,101.51 L714.5,100.25 L714.75,98.97 L715,97.67 L715.25,96.33 L715.5,94.98 L715.75,93.6 L716,92.2 L716.25,90.77 L716.5,89.32 L716.75,87.85 L717,86.36 L717.25,84.84 L717.5,83.3 L717.75,81.75 L718,80.17 L718.25,78.57 L718.5,76.96 L718.75,75.32 L719,73.67 L719.25,72 L719.5,70.32 L719.75,68.63 L720,66.92 L720.25,65.2 L720.5,63.46 L720.75,61.72 L721,59.97 L721.25,58.22 L721.5,56.45 L721.75,54.69 L722,52.92 L722.25,51.15 L722.5,49.38 L722.75,47.62 L723,45.86 L723.25,44.1 L723.5,42.36 L723.75,40.62 L724,38.9 L724.25,37.19 L724.5,35.5 L724.75,33.83 L725,32.18 L725.25,30.55 L725.5,28.96 L725.75,27.39 L726,25.85 L726.25,24.35 L726.5,22.89 L726.75,21.47 L727,20.09 L727.25,18.77 L727.5,17.49 L727.75,16.27 L728,15.11 L728.25,14 L728.5,12.97 L728.75,12.01 L729,11.12 L729.25,10.31 L729.5,9.58 L729.75,8.95 L730,8.4 L730.25,7.96 L730.5,7.61 L730.75,7.36 L731,7.2 L731.25,7.13 L731.5,7.1 L731.75,7.1 L732,7.11 L732.25,7.15 L732.5,7.26 L732.75,7.45 L733,7.73 L733.25,8.12 L733.5,8.61 L733.75,9.19 L734,9.86 L734.25,10.62 L734.5,11.46 L734.75,12.38 L735,13.38 L735.25,14.44 L735.5,15.56 L735.75,16.75 L736,17.99 L736.25,19.29 L736.5,20.64 L736.75,22.03 L737,23.47 L737.25,24.95 L737.5,26.46 L737.75,28.01 L738,29.59 L738.25,31.2 L738.5,32.84 L738.75,34.49 L739,36.17 L739.25,37.87 L739.5,39.59 L739.75,41.31 L740,43.05 L740.25,44.8 L740.5,46.56 L740.75,48.32 L741,50.09 L741.25,51.86 L741.5,53.63 L741.75,55.39 L742,57.16 L742.25,58.92 L742.5,60.67 L742.75,62.42 L743,64.16 L743.25,65.89 L743.5,67.6 L743.75,69.31 L744,71 L744.25,72.67 L744.5,74.33 L744.75,75.98 L745,77.6 L745.25,79.21 L745.5,80.8 L745.75,82.37 L746,83.92 L746.25,85.45 L746.5,86.96 L746.75,88.44 L747,89.9 L747.25,91.34 L747.5,92.76 L747.75,94.16 L748,95.52 L748.25,96.87 L748.5,98.19 L748.75,99.49 L749,100.76 L749.25,102.01 L749.5,103.23 L749.75,104.43 L750,105.6 L750.25,106.75 L750.5,107.87 L750.75,108.97 L751,110.04 L751.25,111.09 L751.5,112.12 L751.75,113.12 L752,114.09 L752.25,115.05 L752.5,115.97 L752.75,116.88 L753,117.76 L753.25,118.62 L753.5,119.46 L753.75,120.27 L754,121.07 L754.25,121.84 L754.5,122.59 L754.75,123.31 L755,124.02 L755.25,124.71 L755.5,125.38 L755.75,126.02 L756,126.65 L756.25,127.26 L756.5,127.85 L756.75,128.43 L757,128.98 L757.25,129.52 L757.5,130.04 L757.75,130.54 L758,131.03 L758.25,131.5 L758.5,131.96 L758.75,132.4 L759,132.82 L759.25,133.24 L759.5,133.63 L759.75,134.02 L760,134.39 L760.25,134.74 L760.5,135.09 L760.75,135.42 L761,135.74 L761.25,136.05 L761.5,136.35 L761.75,136.63 L762,136.91 L762.25,137.18 L762.5,137.43 L762.75,137.68 L763,137.91 L763.25,138.14 L763.5,138.36 L763.75,138.57 L764,138.77 L764.25,138.97 L764.5,139.15 L764.75,139.33 L765,139.5 L765.25,139.67 L765.5,139.82 L765.75,139.97 L766,140.12 L766.25,140.26 L766.5,140.39 L766.75,140.52 L767,140.64 L767.25,140.76 L767.5,140.87 L767.75,140.97 L768,141.08 L768.25,141.17 L768.5,141.27 L768.75,141.36 L769,141.44 L769.25,141.52 L769.5,141.6 L769.75,141.68 L770,141.75 L770.25,141.82 L770.5,141.88 L770.75,141.94 L771,142 L771.25,142.06 L771.5,142.11 L771.75,142.16 L772,142.21 L772.25,142.25 L772.5,142.3 L772.75,142.34 L773,142.38 L773.25,142.42 L773.5,142.45 L773.75,142.49 L774,142.52 L774.25,142.55 L774.5,142.58 L774.75,142.61 L775,142.64 L775.25,142.66 L775.5,142.68 L775.75,142.71 L776,142.73 L776.25,142.75 L776.5,142.77 L776.75,142.79 L777,142.8 L777.25,142.82 L777.5,142.84 L777.75,142.85 L778,142.87 L778.25,142.88 L778.5,142.89 L778.75,142.9 L779,142.91 L779.25,142.92 L779.5,142.93 L779.75,142.94 L780,142.95 L780.25,142.96 L780.5,142.97 L780.75,142.98 L781,142.98 L781.25,142.99 L781.5,143 L781.75,143 L782,143.01 L782.25,143.02 L782.5,143.02 L782.75,143.03 L783,143.03 L783.25,143.03 L783.5,143.04 L783.75,143.04 L784,143.05 L784,143.6 Z" fill="url(#g3)"/>
<line x1="493.3" y1="328.8" x2="721.1" y2="328.8" stroke="url(#g4)" stroke-width="1.6" stroke-opacity="0.7"/>
<path d="M571.5,328.8 L574,327.9 L576,324.2 L577.2,317.8 L578.2,305.8 L579.2,289.9 L580,273.9 L581,262.5 L581.7,257.5 L582.2,255.6 L582.8,257.2 L583.5,262 L584.1,275 L584.5,300 L584.8,328.8 Z M629.9,328.8 L630.2,300 L630.6,275 L631.2,262 L631.9,257.2 L632.5,255.6 L633,257.5 L633.7,262.5 L634.7,273.9 L635.5,289.9 L636.5,305.8 L637.5,317.8 L638.7,324.2 L640.7,327.9 L643.2,328.8 Z M587.7,328.8 L587.89,302.75 L588.08,293.21 L588.26,286.8 L588.45,282.21 L588.64,278.93 L588.83,276.71 L589.01,275.42 L589.2,275 L589.39,275.42 L589.58,276.71 L589.76,278.93 L589.95,282.21 L590.14,286.8 L590.33,293.21 L590.51,302.75 L590.7,328.8 Z M593.1,328.8 L593.27,304.69 L593.45,295.86 L593.62,289.92 L593.8,285.67 L593.98,282.63 L594.15,280.58 L594.33,279.39 L594.5,279 L594.67,279.39 L594.85,280.58 L595.02,282.63 L595.2,285.67 L595.38,289.92 L595.55,295.86 L595.73,304.69 L595.9,328.8 Z M597.6,328.8 L597.77,305.61 L597.95,297.12 L598.12,291.41 L598.3,287.32 L598.48,284.4 L598.65,282.42 L598.83,281.28 L599,280.9 L599.17,281.28 L599.35,282.42 L599.52,284.4 L599.7,287.32 L599.88,291.41 L600.05,297.12 L600.23,305.61 L600.4,328.8 Z M601.9,328.8 L602.07,306.05 L602.25,297.71 L602.42,292.11 L602.6,288.1 L602.77,285.23 L602.95,283.29 L603.12,282.17 L603.3,281.8 L603.47,282.17 L603.65,283.29 L603.82,285.23 L604,288.1 L604.17,292.11 L604.35,297.71 L604.52,306.05 L604.7,328.8 Z M606,328.8 L606.17,306.09 L606.35,297.78 L606.52,292.19 L606.7,288.18 L606.88,285.32 L607.05,283.39 L607.23,282.27 L607.4,281.9 L607.57,282.27 L607.75,283.39 L607.92,285.32 L608.1,288.18 L608.27,292.19 L608.45,297.78 L608.62,306.09 L608.8,328.8 Z M610.1,328.8 L610.27,306.14 L610.45,297.84 L610.62,292.27 L610.8,288.27 L610.98,285.42 L611.15,283.49 L611.33,282.37 L611.5,282 L611.67,282.37 L611.85,283.49 L612.02,285.42 L612.2,288.27 L612.38,292.27 L612.55,297.84 L612.73,306.14 L612.9,328.8 Z M614.5,328.8 L614.67,305.71 L614.85,297.25 L615.02,291.56 L615.2,287.49 L615.38,284.58 L615.55,282.61 L615.73,281.47 L615.9,281.1 L616.07,281.47 L616.25,282.61 L616.42,284.58 L616.6,287.49 L616.77,291.56 L616.95,297.25 L617.12,305.71 L617.3,328.8 Z M619,328.8 L619.17,304.74 L619.35,295.93 L619.52,290 L619.7,285.76 L619.88,282.73 L620.05,280.68 L620.23,279.49 L620.4,279.1 L620.57,279.49 L620.75,280.68 L620.92,282.73 L621.1,285.76 L621.27,290 L621.45,295.93 L621.62,304.74 L621.8,328.8 Z M624.1,328.8 L624.29,302.75 L624.48,293.21 L624.66,286.8 L624.85,282.21 L625.04,278.93 L625.23,276.71 L625.41,275.42 L625.6,275 L625.79,275.42 L625.98,276.71 L626.16,278.93 L626.35,282.21 L626.54,286.8 L626.73,293.21 L626.91,302.75 L627.1,328.8 Z M584.45,328.8 L584.68,357.36 L584.91,367.82 L585.14,374.86 L585.38,379.9 L585.61,383.49 L585.84,385.93 L586.07,387.34 L586.3,387.8 L586.53,387.34 L586.76,385.93 L586.99,383.49 L587.22,379.9 L587.46,374.86 L587.69,367.82 L587.92,357.36 L588.15,328.8 Z M590.6,328.8 L590.77,353.93 L590.95,363.13 L591.12,369.31 L591.3,373.75 L591.48,376.91 L591.65,379.05 L591.83,380.29 L592,380.7 L592.17,380.29 L592.35,379.05 L592.52,376.91 L592.7,373.75 L592.88,369.31 L593.05,363.13 L593.23,353.93 L593.4,328.8 Z M595.2,328.8 L595.38,352.47 L595.55,361.14 L595.73,366.97 L595.9,371.15 L596.08,374.13 L596.25,376.15 L596.43,377.32 L596.6,377.7 L596.77,377.32 L596.95,376.15 L597.12,374.13 L597.3,371.15 L597.48,366.97 L597.65,361.14 L597.83,352.47 L598,328.8 Z M599.6,328.8 L599.77,351.99 L599.95,360.48 L600.12,366.19 L600.3,370.28 L600.48,373.2 L600.65,375.18 L600.83,376.32 L601,376.7 L601.17,376.32 L601.35,375.18 L601.52,373.2 L601.7,370.28 L601.88,366.19 L602.05,360.48 L602.23,351.99 L602.4,328.8 Z M604,328.8 L604.17,351.6 L604.35,359.95 L604.52,365.57 L604.7,369.59 L604.88,372.46 L605.05,374.4 L605.23,375.53 L605.4,375.9 L605.57,375.53 L605.75,374.4 L605.92,372.46 L606.1,369.59 L606.27,365.57 L606.45,359.95 L606.62,351.6 L606.8,328.8 Z M608.1,328.8 L608.27,351.51 L608.45,359.82 L608.62,365.41 L608.8,369.42 L608.98,372.28 L609.15,374.21 L609.33,375.33 L609.5,375.7 L609.67,375.33 L609.85,374.21 L610.02,372.28 L610.2,369.42 L610.38,365.41 L610.55,359.82 L610.73,351.51 L610.9,328.8 Z M612.3,328.8 L612.48,351.89 L612.65,360.35 L612.83,366.04 L613,370.11 L613.18,373.02 L613.35,374.99 L613.53,376.13 L613.7,376.5 L613.88,376.13 L614.05,374.99 L614.23,373.02 L614.4,370.11 L614.58,366.04 L614.75,360.35 L614.93,351.89 L615.1,328.8 Z M616.7,328.8 L616.88,352.38 L617.05,361.01 L617.23,366.82 L617.4,370.98 L617.58,373.95 L617.75,375.95 L617.93,377.12 L618.1,377.5 L618.27,377.12 L618.45,375.95 L618.62,373.95 L618.8,370.98 L618.98,366.82 L619.15,361.01 L619.33,352.38 L619.5,328.8 Z M621.5,328.8 L621.67,353.93 L621.85,363.13 L622.02,369.31 L622.2,373.75 L622.38,376.91 L622.55,379.05 L622.73,380.29 L622.9,380.7 L623.07,380.29 L623.25,379.05 L623.42,376.91 L623.6,373.75 L623.77,369.31 L623.95,363.13 L624.12,353.93 L624.3,328.8 Z M626.65,328.8 L626.88,357.27 L627.11,367.69 L627.34,374.7 L627.58,379.72 L627.81,383.31 L628.04,385.73 L628.27,387.14 L628.5,387.6 L628.73,387.14 L628.96,385.73 L629.19,383.31 L629.42,379.72 L629.66,374.7 L629.89,367.69 L630.12,357.27 L630.35,328.8 Z" fill="url(#g4)"/>
<line x1="787.4" y1="450.9" x2="1024" y2="450.9" stroke="url(#g5)" stroke-width="1.6" stroke-opacity="0.7"/>
<path d="M820,450.9 L820,450.9 L820.5,450.9 L821,450.9 L821.5,450.9 L822,450.9 L822.5,450.9 L823,450.9 L823.5,450.9 L824,450.9 L824.5,450.9 L825,450.9 L825.5,450.9 L826,450.9 L826.5,450.9 L827,450.9 L827.5,450.9 L828,450.89 L828.5,450.89 L829,450.89 L829.5,450.89 L830,450.89 L830.5,450.88 L831,450.88 L831.5,450.88 L832,450.87 L832.5,450.86 L833,450.86 L833.5,450.85 L834,450.84 L834.5,450.82 L835,450.81 L835.5,450.79 L836,450.76 L836.5,450.73 L837,450.7 L837.5,450.66 L838,450.62 L838.5,450.56 L839,450.5 L839.5,450.42 L840,450.33 L840.5,450.23 L841,450.11 L841.5,449.97 L842,449.8 L842.5,449.61 L843,449.39 L843.5,449.14 L844,448.84 L844.5,448.51 L845,448.12 L845.5,447.68 L846,447.18 L846.5,446.61 L847,445.97 L847.5,445.24 L848,444.41 L848.5,443.49 L849,442.45 L849.5,441.29 L850,440 L850.5,438.57 L851,436.98 L851.5,435.22 L852,433.28 L852.5,431.16 L853,428.84 L853.5,426.31 L854,423.56 L854.5,420.59 L855,417.38 L855.5,413.94 L856,410.26 L856.5,406.34 L857,402.18 L857.5,397.79 L858,393.19 L858.5,388.37 L859,383.37 L859.5,378.21 L860,372.9 L860.5,367.5 L861,362.03 L861.5,356.54 L862,351.09 L862.5,345.73 L863,340.54 L863.5,335.57 L864,330.92 L864.5,326.67 L865,322.93 L865.5,319.79 L866,317.38 L866.5,315.81 L867,315.1 L867.5,315 L868.1,316.36 L868.6,319.76 L869.15,324.51 L870.6,333.62 L872.2,347.62 L873.7,362.29 L875,376.15 L876.3,390.83 L877.6,399.94 L878.7,410.13 L879.9,420.87 L880.8,429.16 L881.7,436.49 L882.9,442.07 L884.1,445.87 L885.5,445 L886.8,444 L888.5,443.6 L890.3,444 L892.5,445.5 L895,447.3 L897.5,449 L900.3,450.4 L903.2,448.8 L906.2,446.8 L909.2,444.6 L910.6,444 L912,443.8 L913.6,444.2 L915,445 L916.4,446 L917.5,446.42 L918.5,442.07 L919.6,436.49 L920.9,429.16 L922.2,420.87 L923.5,410.13 L924.8,399.94 L926.8,390.83 L928.5,376.15 L930.1,362.29 L931.6,347.62 L933.2,333.62 L934.55,324.51 L935.05,319.76 L935.5,316.36 L936.1,315 L936.5,315.02 L937,315.3 L937.5,316.07 L938,317.38 L938.5,319.18 L939,321.44 L939.5,324.11 L940,327.13 L940.5,330.47 L941,334.07 L941.5,337.9 L942,341.91 L942.5,346.07 L943,350.34 L943.5,354.69 L944,359.08 L944.5,363.5 L945,367.91 L945.5,372.29 L946,376.61 L946.5,380.86 L947,385.02 L947.5,389.07 L948,393 L948.5,396.8 L949,400.46 L949.5,403.98 L950,407.34 L950.5,410.55 L951,413.6 L951.5,416.49 L952,419.22 L952.5,421.8 L953,424.21 L953.5,426.48 L954,428.6 L954.5,430.57 L955,432.41 L955.5,434.11 L956,435.68 L956.5,437.13 L957,438.47 L957.5,439.7 L958,440.82 L958.5,441.85 L959,442.79 L959.5,443.65 L960,444.42 L960.5,445.13 L961,445.76 L961.5,446.34 L962,446.85 L962.5,447.32 L963,447.74 L963.5,448.11 L964,448.44 L964.5,448.74 L965,449.01 L965.5,449.24 L966,449.45 L966.5,449.63 L967,449.8 L967.5,449.94 L968,450.07 L968.5,450.18 L969,450.27 L969.5,450.36 L970,450.43 L970.5,450.5 L971,450.55 L971.5,450.6 L972,450.64 L972.5,450.68 L973,450.71 L973.5,450.74 L974,450.76 L974.5,450.78 L975,450.8 L975.5,450.82 L976,450.83 L976.5,450.84 L977,450.85 L977.5,450.86 L978,450.86 L978.5,450.87 L979,450.87 L979.5,450.88 L980,450.88 L980.5,450.89 L981,450.89 L981.5,450.89 L982,450.89 L982.5,450.89 L983,450.89 L983.5,450.9 L984,450.9 L984.5,450.9 L985,450.9 L985.5,450.9 L986,450.9 L986.5,450.9 L987,450.9 L987.5,450.9 L988,450.9 L988.5,450.9 L989,450.9 L989.5,450.9 L990,450.9 L990.5,450.9 L991,450.9 L991.5,450.9 L992,450.9 L992.5,450.9 L993,450.9 L993.5,450.9 L994,450.9 L994.5,450.9 L995,450.9 L995.5,450.9 L996,450.9 L996.5,450.9 L997,450.9 L997.5,450.9 L998,450.9 L998.5,450.9 L999,450.9 L999.5,450.9 L1000,450.9 L1000,450.9 Z" fill="url(#g5)"/>
<path d="M485.33,830.6 L485.33,828.11 L486.66,826.79 L487.98,827.45 L489.98,825.46 L491.3,826.79 L492.63,824.13 L493.96,824.79 L495.29,821.47 L496.62,813.51 L497.94,789.6 L499.27,749.76 L500.6,737.81 L501.66,732.5 L502.59,735.15 L503.26,753.75 L503.92,782.96 L504.58,802.88 L505.51,804.21 L506.58,806.87 L507.64,794.91 L508.3,784.29 L509.23,785.62 L510.16,782.96 L511.22,781.63 L512.15,769.68 L513.22,740.46 L514.28,709.92 L514.94,699.3 L515.61,711.25 L516.27,721.87 L517.2,723.2 L518.26,740.46 L519.19,756.4 L520.12,761.71 L520.92,764.37 L521.58,774.99 L522.51,772.34 L523.31,777.65 L523.84,764.37 L524.5,762.38 L525.17,767.03 L525.97,776.32 L526.76,782.96 L527.82,756.4 L528.75,747.1 L529.82,733.82 L530.75,724.53 L531.81,729.84 L532.74,745.78 L533.54,753.75 L534.46,756.4 L535.13,764.37 L535.79,777.65 L536.72,780.31 L537.39,789.6 L538.45,796.24 L539.38,790.93 L541.06,773.67 L541.99,790.93 L542.92,769.68 L543.98,764.37 L545.05,767.03 L545.58,780.31 L546.37,767.03 L547.3,772.34 L548.23,771.01 L549.03,774.99 L549.96,782.96 L550.89,777.65 L551.69,793.59 L552.62,790.93 L553.28,784.29 L554.34,782.96 L555.27,796.24 L556.2,780.31 L557.26,777.65 L558.19,793.59 L559.26,772.34 L560.19,770.35 L561.25,793.59 L562.18,768.35 L563.24,766.36 L564.3,798.9 L565.23,769.68 L566.16,767.69 L567.22,788.27 L568.15,777.65 L569.22,764.37 L570.54,760.39 L571.87,764.37 L572.54,788.27 L573.47,772.34 L574.79,752.42 L575.86,753.75 L576.92,769.68 L577.72,788.27 L578.51,780.31 L579.58,764.37 L580.5,745.78 L581.57,739.8 L582.5,745.78 L583.43,774.99 L584.22,740.46 L585.15,739.14 L586.08,740.46 L586.75,727.18 L587.54,708.59 L588.34,708.59 L589.14,751.09 L590.07,732.5 L590.86,727.85 L591.53,728.51 L592.19,740.46 L593.12,716.56 L593.92,709.26 L594.71,716.56 L595.51,732.5 L597.06,747.1 L597.99,743.12 L598.92,735.15 L599.98,733.16 L601.05,737.81 L601.98,739.14 L602.91,756.4 L603.7,760.39 L604.5,733.82 L605.3,724.53 L606.23,729.84 L606.89,751.09 L607.69,716.56 L608.62,713.24 L609.28,727.18 L609.94,755.07 L610.87,729.84 L611.67,718.55 L612.47,720.54 L613.26,743.12 L614.06,713.9 L614.86,711.25 L615.65,723.2 L616.32,757.73 L617.25,744.45 L618.18,741.79 L618.97,747.1 L619.9,741.79 L620.97,741.13 L621.76,748.43 L622.56,774.99 L623.22,785.62 L624.15,767.03 L625.22,763.04 L626.28,764.37 L627.34,772.34 L628.27,785.62 L629.2,792.26 L630.26,769.68 L631.33,761.05 L632.25,764.37 L633.18,776.32 L634.11,788.27 L635.04,772.34 L636.11,765.7 L636.9,769.68 L637.7,782.96 L638.5,793.59 L639.56,774.99 L640.62,769.02 L641.68,772.34 L642.48,788.27 L643.14,800.23 L644.07,774.99 L644.87,770.35 L645.67,774.99 L646.33,796.24 L647,802.88 L647.79,777.65 L648.46,776.99 L649.25,782.96 L650.05,800.23 L650.71,782.96 L651.51,776.99 L652.8,780.31 L653.59,796.24 L654.66,774.99 L655.59,777.65 L656.38,793.59 L657.31,777.65 L658.24,776.32 L659.17,790.93 L660.23,780.31 L661.3,772.34 L662.36,774.99 L663.29,776.32 L664.22,761.71 L665.01,754.41 L665.81,759.06 L666.61,761.71 L667.67,748.43 L668.73,744.45 L669.66,747.1 L670.59,753.75 L671.39,757.73 L672.19,748.43 L673.25,745.11 L674.05,751.09 L674.84,764.37 L675.51,785.62 L676.44,767.03 L677.23,765.03 L678.03,774.99 L678.83,793.59 L679.49,808.19 L680.29,782.96 L681.22,760.39 L682.28,761.71 L683.34,777.65 L684.27,739.14 L685.2,725.86 L686,724.53 L686.79,741.79 L687.59,723.2 L688.39,712.58 L689.18,715.23 L690.11,729.84 L690.91,727.85 L691.84,725.86 L692.77,720.54 L693.57,719.22 L694.5,728.51 L695.29,745.78 L695.82,774.99 L696.75,745.78 L697.55,738.47 L698.48,739.14 L699.14,756.4 L699.81,781.63 L700.74,780.97 L701.54,782.96 L702.46,793.59 L703.26,790.93 L704.06,792.26 L704.86,786.95 L705.78,776.32 L706.71,772.34 L707.78,745.78 L708.57,716.56 L709.37,709.92 L710.17,711.25 L710.96,724.53 L711.76,728.51 L713,728.5 L714.1,742.3 L715.1,747.8 L716,772.5 L717.1,778 L718.2,778 L719.2,780.8 L720.2,800.1 L721.3,811.1 L722,830.3 L722,830.6 Z" fill="url(#g6)"/>
<line x1="485.4" y1="830.3" x2="722.7" y2="830.3" stroke="url(#g6)" stroke-width="1.6" stroke-opacity="0.7"/>
<ellipse cx="261" cy="85.1" rx="118.3" ry="80.4" fill="none" stroke="#2df52d" stroke-width="2.9"/>
<ellipse cx="609.5" cy="324.4" rx="118.8" ry="73.5" fill="none" stroke="#2df52d" stroke-width="2.9"/>
<ellipse cx="498" cy="81.4" rx="118.2" ry="80.3" fill="none" stroke="#712a40" stroke-width="2.8"/>
<ellipse cx="733.7" cy="82.9" rx="118.4" ry="80.3" fill="none" stroke="#ff2b2b" stroke-width="2.9"/>
<ellipse cx="902.3" cy="388.3" rx="126" ry="78.2" fill="none" stroke="#712a40" stroke-width="2.8"/>
<ellipse cx="602.2" cy="773.6" rx="151.8" ry="92.7" fill="none" stroke="#ff2b2b" stroke-width="2.9"/>
</svg></body></html>
